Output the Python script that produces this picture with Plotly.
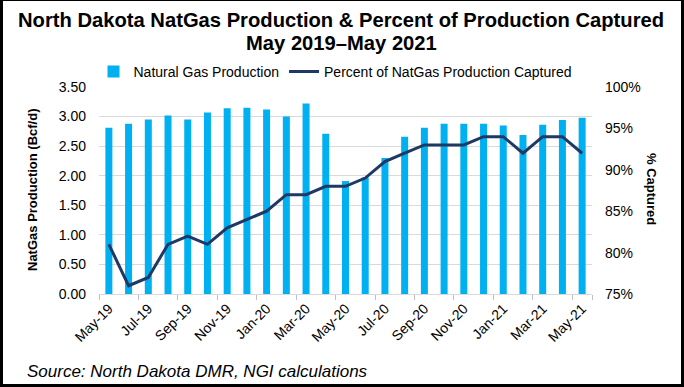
import plotly.graph_objects as go

months = ["May-19", "Jun-19", "Jul-19", "Aug-19", "Sep-19", "Oct-19", "Nov-19", "Dec-19",
          "Jan-20", "Feb-20", "Mar-20", "Apr-20", "May-20", "Jun-20", "Jul-20", "Aug-20",
          "Sep-20", "Oct-20", "Nov-20", "Dec-20", "Jan-21", "Feb-21", "Mar-21", "Apr-21", "May-21"]
production = [2.81, 2.88, 2.95, 3.02, 2.95, 3.07, 3.14, 3.15, 3.12, 3.00, 3.22, 2.71, 1.91,
              1.97, 2.30, 2.66, 2.81, 2.88, 2.88, 2.88, 2.85, 2.69, 2.86, 2.94, 2.98]
captured = [81, 76, 77, 81, 82, 81, 83, 84, 85, 87, 87, 88, 88, 89, 91, 92, 93, 93, 93, 94,
            94, 92, 94, 94, 92]
tick_labels = months[::2]

W, H = 684, 387
L, R, T, B = 99, 92, 87, 93
PW, PH = W - L - R, H - T - B


def px(x):
    return (x - L) / PW


def py(y):
    return (H - B - y) / PH


FONT = "Liberation Sans, Arial, sans-serif"

fig = go.Figure()
fig.add_trace(go.Bar(x=months, y=production, name="Natural Gas Production",
                     marker=dict(color="#00B0F0", line=dict(width=0))))
fig.add_trace(go.Scatter(x=months, y=captured, name="Percent of NatGas Production Captured",
                         yaxis="y2", mode="lines", line=dict(color="#1F3864", width=3)))

fig.update_layout(
    width=W, height=H,
    margin=dict(l=L, r=R, t=T, b=B, pad=0),
    paper_bgcolor="white", plot_bgcolor="white",
    font=dict(family=FONT, size=14, color="#000000"),
    bargap=0.645,
    showlegend=True,
    legend=dict(orientation="h", x=px(335), xanchor="center", y=py(72), yanchor="middle",
                font=dict(size=14, color="#000000"), bgcolor="rgba(0,0,0,0)",
                itemclick=False, tracegroupgap=0),
    xaxis=dict(type="category", tickmode="array", tickvals=tick_labels, ticktext=tick_labels,
               tickangle=-45, tickson="boundaries", ticks="outside", ticklen=5,
               tickcolor="#BFBFBF", showline=True, linecolor="#D9D9D9", linewidth=1,
               showgrid=False, tickfont=dict(size=14), range=[-0.5, 24.5]),
    yaxis=dict(range=[0, 3.5], dtick=0.5, tickformat=".2f", showgrid=True,
               gridcolor="#D9D9D9", gridwidth=1, zeroline=False, showline=False,
               ticks="", ticklabelstandoff=12, tickfont=dict(size=14)),
    yaxis2=dict(range=[75, 100], dtick=5, ticksuffix="%", overlaying="y", side="right",
                showgrid=False, zeroline=False, showline=False, ticks="",
                ticklabelstandoff=12, tickfont=dict(size=14)),
)

annotations = [
    dict(text="<b>North Dakota NatGas Production & Percent of Production Captured</b>",
         x=px(341), y=py(20), font=dict(size=20.2)),
    dict(text="<b>May 2019\u2013May 2021</b>", x=px(341), y=py(43), font=dict(size=20.2)),
    dict(text="<b>NatGas Production (Bcf/d)</b>", x=px(32), y=py(190), textangle=-90,
         font=dict(size=13)),
    dict(text="<b>% Captured</b>", x=px(652), y=py(189), textangle=90, font=dict(size=13)),
    dict(text="<i>Source: North Dakota DMR, NGI calculations</i>", x=px(25), y=py(371),
         xanchor="left", font=dict(size=17)),
]
for a in annotations:
    a.setdefault("xanchor", "center")
    a.update(xref="paper", yref="paper", yanchor="middle", showarrow=False)
fig.update_layout(annotations=annotations)

fig.add_shape(type="rect", xref="paper", yref="paper",
              x0=px(1.5), x1=px(682.5), y0=py(385.5), y1=py(-0.5),
              line=dict(color="#000000", width=3), fillcolor="rgba(0,0,0,0)")

fig.write_html("out.html", config={"displayModeBar": False},
               post_script="document.body.style.margin='0';document.body.style.overflow='hidden';")
